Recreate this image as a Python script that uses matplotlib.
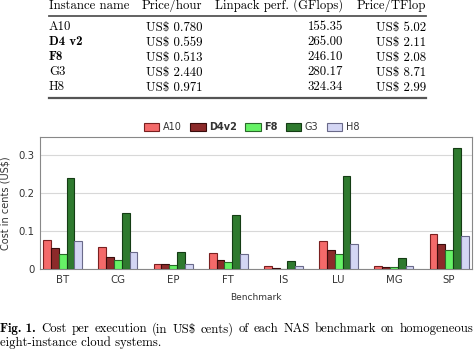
import matplotlib
matplotlib.use("Agg")
import matplotlib.pyplot as plt
import numpy as np

# ---- data ----
table_header = ["Instance name", "Price/hour", "Linpack perf. (GFlops)", "Price/TFlop"]
instances = ["A10", "D4 v2", "F8", "G3", "H8"]
instance_bold = [False, True, True, False, False]
price_hour = ["US$ 0.780", "US$ 0.559", "US$ 0.513", "US$ 2.440", "US$ 0.971"]
linpack = ["155.35", "265.00", "246.10", "280.17", "324.34"]
price_tflop = ["US$ 5.02", "US$ 2.11", "US$ 2.08", "US$ 8.71", "US$ 2.99"]

benchmarks = ["BT", "CG", "EP", "FT", "IS", "LU", "MG", "SP"]
series_names = ["A10", "D4v2", "F8", "G3", "H8"]
series_bold = [False, True, True, False, False]
a10 = [0.075, 0.058, 0.014, 0.041, 0.007, 0.073, 0.009, 0.092]
d4v2 = [0.055, 0.032, 0.012, 0.024, 0.003, 0.051, 0.006, 0.067]
f8 = [0.039, 0.024, 0.010, 0.018, 0.001, 0.040, 0.004, 0.051]
g3 = [0.239, 0.146, 0.046, 0.141, 0.021, 0.244, 0.028, 0.317]
h8 = [0.073, 0.046, 0.013, 0.040, 0.007, 0.067, 0.008, 0.087]
series = [a10, d4v2, f8, g3, h8]

face_colors = ["#f46a6a", "#8c2a2a", "#66f266", "#2f7a2f", "#d4d6f4"]
edge_colors = ["#7a2020", "#3a0c0c", "#2a6a2a", "#143c14", "#6a6a8a"]

W, H = 474, 349
fig = plt.figure(figsize=(W / 100, H / 100), dpi=100)
fig.patch.set_facecolor("white")

def fx(px):
    return px / W

def fy(py):
    return 1 - py / H

# ---- table ----
tfs = 9.2
rm = "cmr10"
bf = "cmb10"
head_y = 5.5
row_ys = [27, 42, 57, 72, 87]
fig.text(fx(49), fy(head_y), table_header[0], family=rm, fontsize=tfs, va="center", ha="left", parse_math=False)
fig.text(fx(202), fy(head_y), table_header[1], family=rm, fontsize=tfs, va="center", ha="right", parse_math=False)
fig.text(fx(343), fy(head_y), table_header[2], family=rm, fontsize=tfs, va="center", ha="right", parse_math=False)
fig.text(fx(426), fy(head_y), table_header[3], family=rm, fontsize=tfs, va="center", ha="right", parse_math=False)
for i, y in enumerate(row_ys):
    fig.text(fx(49), fy(y), instances[i], family=bf if instance_bold[i] else rm,
             fontsize=tfs, va="center", ha="left", parse_math=False)
    fig.text(fx(202), fy(y), price_hour[i], family=rm, fontsize=tfs, va="center", ha="right", parse_math=False)
    fig.text(fx(343), fy(y), linpack[i], family=rm, fontsize=tfs, va="center", ha="right", parse_math=False)
    fig.text(fx(426), fy(y), price_tflop[i], family=rm, fontsize=tfs, va="center", ha="right", parse_math=False)
for yy, lw in [(15.5, 1.3), (98, 1.6)]:
    fig.add_artist(plt.Line2D([fx(49), fx(426)], [fy(yy), fy(yy)], color="#555555", lw=lw))

# ---- chart ----
ax = fig.add_axes([fx(40), fy(269), fx(471.7) - fx(40), fy(137) - fy(269)])
x = np.arange(len(benchmarks))
bw = 0.141
for k, vals in enumerate(series):
    ax.bar(x + (k - 2) * bw, vals, width=bw, color=face_colors[k], edgecolor=edge_colors[k],
           linewidth=0.8, label=series_names[k], zorder=3)
ax.set_xlim(-0.41, len(benchmarks) - 1 + 0.41)
ax.set_ylim(0, 0.347)
ax.set_yticks([0, 0.1, 0.2, 0.3])
ax.set_yticklabels(["0", "0.1", "0.2", "0.3"])
ax.set_xticks(x)
ax.set_xticklabels(benchmarks)
ax.tick_params(axis="both", length=0, labelsize=7.3, colors="#333333", pad=4)
ax.yaxis.grid(True, color="#d8d8d8", lw=0.8, zorder=0)
for s in ax.spines.values():
    s.set_color("#888888")
    s.set_linewidth(0.8)
ax.set_ylabel("Cost in cents (US$)", fontsize=7, color="#333333", parse_math=False, labelpad=6)
ax.set_xlabel("Benchmark", fontsize=6.5, color="#333333", labelpad=6)

leg = ax.legend(loc="lower center", bbox_to_anchor=(0.49, 0.99), ncol=5, frameon=False,
                fontsize=7, handlelength=1.6, handleheight=0.8, columnspacing=0.85,
                handletextpad=0.35, borderaxespad=0.2)
for t, b in zip(leg.get_texts(), series_bold):
    t.set_color("#333333")
    if b:
        t.set_fontweight("bold")

# ---- caption ----
cfs = 9.2
cap_y1 = 329
cap_y2 = 343
t1 = fig.text(0, fy(cap_y1), "Fig. 1.", family=bf, fontsize=cfs, va="center", ha="left")
words = "Cost per execution (in US$ cents) of each NAS benchmark on homogeneous".split(" ")
fig.canvas.draw()
r = fig.canvas.get_renderer()
start = t1.get_window_extent(r).x1 + 6
arts = []
for w in words:
    arts.append(fig.text(0, fy(cap_y1), w, family=rm, fontsize=cfs, va="center", ha="left", parse_math=False))
widths = [a.get_window_extent(r).width for a in arts]
gap = (W - 1 - start - sum(widths)) / (len(words) - 1)
xpos = start
for a, wdt in zip(arts, widths):
    a.set_x(xpos / W)
    xpos += wdt + gap
fig.text(0, fy(cap_y2), "eight-instance cloud systems.", family=rm, fontsize=cfs, va="center", ha="left")

fig.savefig("out.png", dpi=100, facecolor="white")
